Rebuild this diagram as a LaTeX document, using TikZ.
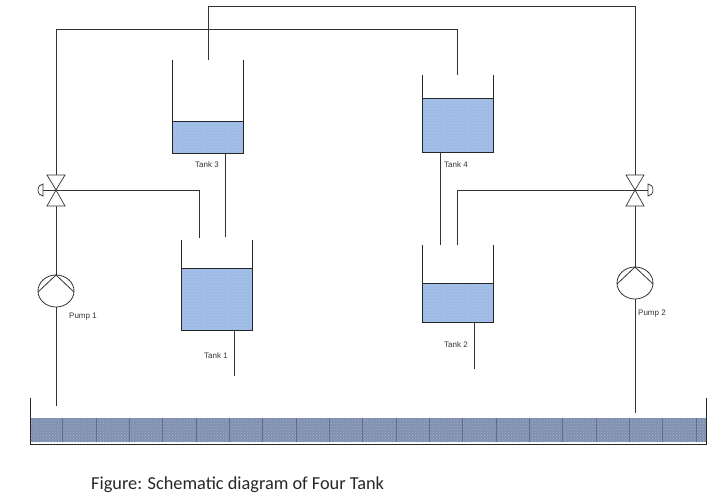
\documentclass[tikz,border=0pt]{standalone}
\usepackage{fontspec}
\setmainfont{Liberation Sans}
\newfontfamily\capfont{Carlito}
\usetikzlibrary{patterns,calc}
\definecolor{liquid}{HTML}{9DBBE6}
\definecolor{liquiddot}{HTML}{B2CBEC}
\definecolor{resv}{HTML}{8090B0}
\definecolor{resvdot}{HTML}{A3B0C8}
\definecolor{resvline}{HTML}{5F6E8E}
\definecolor{pipe}{HTML}{333333}
\tikzset{
  pipeline/.style={draw=pipe,line width=0.9pt},
  wall/.style={draw=black!85,line width=1pt},
  liquidbox/.style={fill=liquid,minimum width=71pt,inner sep=0pt,outer sep=0pt,anchor=north west,
    postaction={pattern=crosshatch dots,pattern color=liquiddot},
    postaction={draw=black!85,line width=1pt}},
  lbl/.style={font=\fontsize{8}{9}\selectfont,text=black!80,inner sep=0pt},
  valvepart/.style={draw=pipe,line width=0.7pt,fill=white}
}
\begin{document}
\begin{tikzpicture}[x=1pt,y=-1pt]
\useasboundingbox (0,0) rectangle (717,500);
% tanks
\node[liquidbox,minimum height=31pt] (liq3) at (172,122) {};
\node[liquidbox,minimum height=62pt] (liq1) at (181,268) {};
\node[liquidbox,minimum height=53pt] (liq4) at (422,99) {};
\node[liquidbox,minimum height=39pt] (liq2) at (422,283) {};
\draw[wall] (liq3.north west) -- ++(0,-62);
\draw[wall] (liq3.north east) -- ++(0,-62);
\draw[wall] (liq1.north west) -- ++(0,-28);
\draw[wall] (liq1.north east) -- ++(0,-28);
\draw[wall] (liq4.north west) -- ++(0,-24);
\draw[wall] (liq4.north east) -- ++(0,-24);
\draw[wall] (liq2.north west) -- ++(0,-38);
\draw[wall] (liq2.north east) -- ++(0,-38);
% junction coordinates
\coordinate (v1) at (56,190);
\coordinate (v2) at (635,190);
\coordinate (p1) at (56,291);
\coordinate (p2) at (635,283);
\coordinate (t3in) at (208,60);
\coordinate (t4in) at (457,75);
\coordinate (t1in) at (199,238);
\coordinate (t2in) at (457,245);
\coordinate (t3out) at (225,153);
\coordinate (t3end) at (225,237);
\coordinate (t4out) at (440,152);
\coordinate (t4end) at (440,245);
\coordinate (t1out) at (234,330);
\coordinate (t1end) at (234,376);
\coordinate (t2out) at (474,322);
\coordinate (t2end) at (474,369);
\coordinate (r1) at (56,406);
\coordinate (r2) at (635,413);
% pipes
\draw[pipeline] (v1) -- (56,29) -- (457,29) -- (t4in);
\draw[pipeline] (v2) -- (635,6) -- (208,6) -- (t3in);
\draw[pipeline] (v1) -- (199,190) -- (t1in);
\draw[pipeline] (v2) -- (457,190) -- (t2in);
\draw[pipeline] (v1) -- (p1);
\draw[pipeline] (v2) -- (p2);
\draw[pipeline] (p1) -- (r1);
\draw[pipeline] (p2) -- (r2);
\draw[pipeline] (t3out) -- (t3end);
\draw[pipeline] (t4out) -- (t4end);
\draw[pipeline] (t1out) -- (t1end);
\draw[pipeline] (t2out) -- (t2end);
% valves
\foreach \v/\s in {v1/-1,v2/1}{
  \draw[valvepart] (\v) -- ++(-9,-15) -- ++(18,0) -- cycle;
  \draw[valvepart] (\v) -- ++(-9,16) -- ++(18,0) -- cycle;
  \draw[valvepart] ($(\v)+(\s*13,0)$) -- (\v);
  \draw[valvepart,fill=none] ($(\v)+(\s*13,-6)$) arc[start angle=90,end angle=90-\s*180,x radius=5pt,y radius=6pt] -- cycle;
}
% pumps
\foreach \p in {p1,p2}{
  \draw[draw=pipe,line width=0.8pt,fill=white] (\p) ellipse[x radius=18pt,y radius=16pt];
  \draw[draw=pipe,line width=0.8pt] ($(\p)+(-18,1)$) -- ($(\p)+(0,-16)$) -- ($(\p)+(18,1)$);
}
% reservoir
\node[draw=none,fill=resv,minimum width=675pt,minimum height=24pt,inner sep=0pt,outer sep=0pt,anchor=north west] (res) at (31,418) {};
\fill[pattern=crosshatch dots,pattern color=resvdot] (res.north west) rectangle (res.south east);
\foreach \x in {62,96,129,162,196,229,262,296,329,362,396,429,462,496,529,562,596,629,662,696}
  \draw[resvline,line width=0.6pt] (\x,418) -- (\x,442);
\draw[wall] (30,398) -- (30,444) -- (706,444) -- (706,398);
% labels
\node[lbl,anchor=west] (l3) at (195,165) {Tank 3};
\node[lbl,anchor=west] (l4) at (444,165) {Tank 4};
\node[lbl,anchor=west] (l1) at (204,356) {Tank 1};
\node[lbl,anchor=west] (l2) at (444,345) {Tank 2};
\node[lbl,anchor=west] (lp1) at (69,317) {Pump 1};
\node[lbl,anchor=west] (lp2) at (638,314) {Pump 2};
\node[anchor=base west,inner sep=0pt,text=black!85,font=\capfont\fontsize{18.3}{20}\selectfont] (cap) at (91,489) {Figure: Schematic diagram of Four Tank};
\end{tikzpicture}
\end{document}
